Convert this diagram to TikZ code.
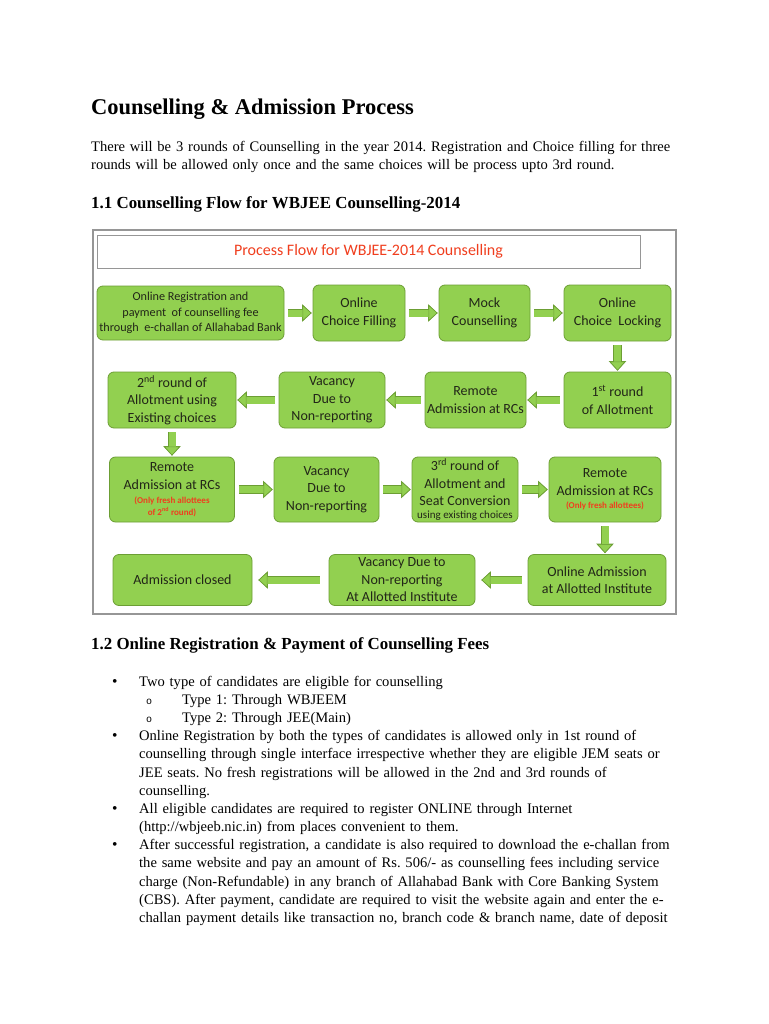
\documentclass[tikz,border=0pt]{standalone}
\usepackage{fontspec}
\setmainfont{Liberation Serif}
\newfontfamily\calibri{Carlito}
\newfontfamily\bulletmono{Liberation Mono}
\usetikzlibrary{arrows.meta}
\frenchspacing

\definecolor{flowgreen}{RGB}{146,208,80}
\definecolor{flowedge}{RGB}{108,158,52}
\definecolor{flowtext}{RGB}{34,38,24}
\definecolor{flowred}{RGB}{240,62,30}
\definecolor{framegray}{RGB}{150,150,150}

\tikzset{
  flowbox/.style={draw=flowedge,fill=flowgreen,rounded corners=6pt,line width=0.8pt,
    align=center,text=flowtext,inner sep=0pt,font=\calibri\fontsize{14}{17.5}\selectfont},
  fatarrow/.style={draw=flowgreen,line width=7pt,shorten <=4pt,shorten >=1pt,
    preaction={draw=flowedge,line width=8.4pt,-{Triangle[width=17pt,length=9.5pt]}},
    -{Triangle[width=16pt,length=9pt,fill=flowgreen,color=flowedge,line width=0.6pt]}},
  para/.style={anchor=base west,inner sep=0pt,text width=620pt,align=left,
    font=\fontsize{14.55}{18.3}\selectfont},
  dotmark/.style={anchor=base west,inner sep=0pt,font=\fontsize{15.5}{18.3}\selectfont},
  ringmark/.style={anchor=base west,inner sep=0pt,font=\bulletmono\fontsize{10}{12}\selectfont}
}
\newcommand{\rednote}{\calibri\bfseries\fontsize{9}{10}\selectfont\color{flowred}}

\begin{document}
\begin{tikzpicture}[x=1pt,y=-1pt]
\path[use as bounding box,fill=white] (0,0) rectangle (768,1024);

% page headings and intro
\node[anchor=base west,inner sep=0pt,font=\bfseries\fontsize{22.5}{26}\selectfont] (title) at (91,114.5)
  {Counselling \& Admission Process};
\node[para] (intro) at (91,151.5)
  {There will be 3 rounds of Counselling in the year 2014. Registration and Choice filling for three\\
   rounds will be allowed only once and the same choices will be process upto 3rd round.};
\node[anchor=base west,inner sep=0pt,font=\bfseries\fontsize{16.9}{20}\selectfont] (head1) at (91,208.5)
  {1.1 Counselling Flow for WBJEE Counselling-2014};

% flow chart frame
\draw[framegray,line width=1.6pt] (93,230) rectangle (676,614);
\node[draw=framegray,line width=0.8pt,minimum width=543pt,minimum height=33pt,inner sep=0pt,
  text=flowred,font=\calibri\fontsize{16}{18}\selectfont] (charttitle) at (368.5,251.5)
  {Process Flow for WBJEE-2014 Counselling};

% row 1
\node[flowbox,minimum width=187pt,minimum height=54pt,font=\calibri\fontsize{12.2}{15.5}\selectfont]
  (regn) at (190.5,313) {Online Registration and\\payment\ \ of counselling fee\\through\ \ e-challan of Allahabad Bank};
\node[flowbox,minimum width=92pt,minimum height=56pt] (filling) at (359,313) {Online\\Choice Filling};
\node[flowbox,minimum width=91pt,minimum height=56pt] (mock) at (484.5,313) {Mock\\Counselling};
\node[flowbox,minimum width=107pt,minimum height=56pt] (locking) at (617.5,313) {Online\\Choice\ \ Locking};

% row 2
\node[flowbox,minimum width=107pt,minimum height=56pt] (round1) at (617.5,400) {1\textsuperscript{st} round\\of Allotment};
\node[flowbox,minimum width=101pt,minimum height=56pt] (remote1) at (475.5,400) {Remote\\Admission at RCs};
\node[flowbox,minimum width=106pt,minimum height=56pt] (vacancy1) at (332,400) {Vacancy\\Due to\\Non-reporting};
\node[flowbox,minimum width=128pt,minimum height=56pt] (round2) at (172,400) {2\textsuperscript{nd} round of\\Allotment using\\Existing choices};

% row 3
\node[flowbox,minimum width=125pt,minimum height=65pt] (remote2) at (172,489.5)
  {Remote\\Admission at RCs\\[-3pt]{\rednote(Only fresh allottees}\\[-6pt]
   {\rednote of 2\textsuperscript{nd} round)}};
\node[flowbox,minimum width=105pt,minimum height=65pt] (vacancy2) at (326.5,489.5) {Vacancy\\Due to\\Non-reporting};
\node[flowbox,minimum width=106pt,minimum height=65pt] (round3) at (465,489.5)
  {3\textsuperscript{rd} round of\\Allotment and\\Seat Conversion\\[-5pt]{\fontsize{11}{12}\selectfont using\ existing choices}};
\node[flowbox,minimum width=112pt,minimum height=65pt] (remote3) at (605,489.5)
  {Remote\\Admission at RCs\\[-4pt]{\rednote(Only fresh allottees)}};

% row 4
\node[flowbox,minimum width=138pt,minimum height=51pt] (online) at (597,580) {Online Admission\\at Allotted Institute};
\node[flowbox,minimum width=146pt,minimum height=51pt] (vacancy3) at (402,580) {Vacancy Due to\\Non-reporting\\At Allotted Institute};
\node[flowbox,minimum width=139pt,minimum height=51pt] (closed) at (182.5,580) {Admission closed};

% block arrows
\draw[fatarrow] (regn) -- (filling);
\draw[fatarrow] (filling) -- (mock);
\draw[fatarrow] (mock) -- (locking);
\draw[fatarrow] (locking) -- (round1);
\draw[fatarrow] (round1) -- (remote1);
\draw[fatarrow] (remote1) -- (vacancy1);
\draw[fatarrow] (vacancy1) -- (round2);
\draw[fatarrow] (round2) -- (remote2);
\draw[fatarrow] (remote2) -- (vacancy2);
\draw[fatarrow] (vacancy2) -- (round3);
\draw[fatarrow] (round3) -- (remote3);
\draw[fatarrow] (remote3) -- (remote3 |- online.north);
\draw[fatarrow,shorten <=6pt,shorten >=6pt] (online) -- (vacancy3);
\draw[fatarrow,shorten <=9pt,shorten >=6pt] (vacancy3) -- (closed);

% section 1.2
\node[anchor=base west,inner sep=0pt,font=\bfseries\fontsize{16.9}{20}\selectfont] (head2) at (91,649.5)
  {1.2 Online Registration \& Payment of Counselling Fees};

\node[dotmark] (dot1) at (112,686.5) {\textbullet};
\node[para] (item1) at (139,686.5) {Two type of candidates are eligible for counselling};
\node[ringmark] (ring1) at (146,704.5) {o};
\node[para] (sub1) at (182,704.5) {Type 1: Through WBJEEM};
\node[ringmark] (ring2) at (146,722.5) {o};
\node[para] (sub2) at (182,722.5) {Type 2: Through JEE(Main)};
\node[dotmark] (dot2) at (112,740.5) {\textbullet};
\node[para] (item2) at (139,740.5)
  {Online Registration by both the types of candidates is allowed only in 1st round of\\
   counselling through single interface irrespective whether they are eligible JEM seats or\\
   JEE seats. No fresh registrations will be allowed in the 2nd and 3rd rounds of\\
   counselling.};
\node[dotmark] (dot3) at (112,813.5) {\textbullet};
\node[para] (item3) at (139,813.5)
  {All eligible candidates are required to register ONLINE through Internet\\
   (http://wbjeeb.nic.in) from places convenient to them.};
\node[dotmark] (dot4) at (112,849.5) {\textbullet};
\node[para] (item4) at (139,849.5)
  {After successful registration, a candidate is also required to download the e-challan from\\
   the same website and pay an amount of Rs. 506/- as counselling fees including service\\
   charge (Non-Refundable) in any branch of Allahabad Bank with Core Banking System\\
   (CBS). After payment, candidate are required to visit the website again and enter the e-\\
   challan payment details like transaction no, branch code \& branch name, date of deposit};
\end{tikzpicture}
\end{document}
